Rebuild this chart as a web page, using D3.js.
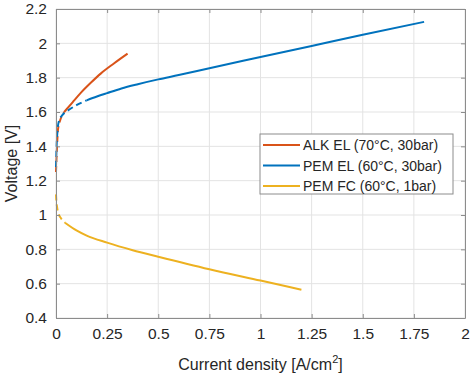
<!DOCTYPE html>
<html>
<head>
<meta charset="utf-8">
<script src="https://cdn.jsdelivr.net/npm/d3@7"></script>
<style>
  body { margin: 0; background: #fff; }
  text { font-family: "Liberation Sans", Arial, sans-serif; fill: #262626; }
</style>
</head>
<body>
<div id="main"></div>
<script>
/* Size */
const width = 474, height = 376;
const margin = {left: 56, right: 9, top: 9, bottom: 58};

/* Data */
const seriesNames = ["ALK EL (70°C, 30bar)", "PEM EL (60°C, 30bar)", "PEM FC (60°C, 1bar)"];
const seriesColors = ["#D95319", "#0072BD", "#EDB120"];

// current density [A/cm2], voltage [V]
const alkCurrent = [0, 0.005, 0.01, 0.02, 0.04, 0.08, 0.12, 0.17, 0.22, 0.28, 0.35];
const alkVoltage = [1.25, 1.40, 1.50, 1.55, 1.60, 1.655, 1.71, 1.77, 1.825, 1.88, 1.94];
const alkDashedUntil = 0.04;

const pemElCurrent = [0, 0.003, 0.008, 0.015, 0.03, 0.06, 0.1, 0.15, 0.2, 0.25, 0.32, 0.4, 0.5, 0.6, 0.75, 1.0, 1.25, 1.5, 1.8];
const pemElVoltage = [1.28, 1.40, 1.50, 1.55, 1.58, 1.61, 1.64, 1.668, 1.69, 1.71, 1.737, 1.762, 1.79, 1.815, 1.855, 1.92, 1.985, 2.05, 2.125];
const pemElDashedUntil = 0.15;

const pemFcCurrent = [0, 0.002, 0.006, 0.012, 0.025, 0.044, 0.1, 0.15, 0.25, 0.375, 0.5, 0.75, 1.0, 1.2];
const pemFcVoltage = [1.12, 1.08, 1.04, 1.01, 0.98, 0.955, 0.91, 0.88, 0.839, 0.795, 0.757, 0.684, 0.618, 0.565];
const pemFcDashedUntil = 0.044;

const xTicks = [0, 0.25, 0.5, 0.75, 1, 1.25, 1.5, 1.75, 2];
const yTicks = [0.4, 0.6, 0.8, 1, 1.2, 1.4, 1.6, 1.8, 2, 2.2];

const series = [
  {x: alkCurrent, y: alkVoltage, cut: alkDashedUntil},
  {x: pemElCurrent, y: pemElVoltage, cut: pemElDashedUntil},
  {x: pemFcCurrent, y: pemFcVoltage, cut: pemFcDashedUntil}
];

/* Scales */
const x = d3.scaleLinear().domain([0, 2]).range([margin.left, width - margin.right]);
const y = d3.scaleLinear().domain([0.4, 2.2]).range([height - margin.bottom, margin.top]);

const svg = d3.select("#main").append("svg").attr("width", width).attr("height", height);

/* Grid */
svg.append("g").selectAll("line").data(xTicks).enter().append("line")
  .attr("x1", d => x(d)).attr("x2", d => x(d))
  .attr("y1", y(0.4)).attr("y2", y(2.2))
  .attr("stroke", "#e3e3e3");
svg.append("g").selectAll("line").data(yTicks).enter().append("line")
  .attr("y1", d => y(d)).attr("y2", d => y(d))
  .attr("x1", x(0)).attr("x2", x(2))
  .attr("stroke", "#e3e3e3");

/* Lines */
const line = d3.line().x(d => x(d[0])).y(d => y(d[1])).curve(d3.curveMonotoneX);
series.forEach((s, i) => {
  const pts = s.x.map((v, j) => [v, s.y[j]]);
  const low = pts.filter(p => p[0] <= s.cut);
  const high = pts.filter(p => p[0] >= s.cut);
  svg.append("path").attr("d", line(low))
    .attr("fill", "none").attr("stroke", seriesColors[i]).attr("stroke-width", 2)
    .attr("stroke-dasharray", "6,4");
  svg.append("path").attr("d", line(high))
    .attr("fill", "none").attr("stroke", seriesColors[i]).attr("stroke-width", 2);
});

/* Axes (box with inward ticks) */
const axisColor = "#8c8c8c";
const tickLen = 4;
const axB = svg.append("g").attr("transform", `translate(0,${y(0.4)})`)
  .call(d3.axisBottom(x).tickValues(xTicks).tickSizeInner(-tickLen).tickSizeOuter(0).tickPadding(10).tickFormat(d3.format("")));
const axT = svg.append("g").attr("transform", `translate(0,${y(2.2)})`)
  .call(d3.axisTop(x).tickValues(xTicks).tickSizeInner(-tickLen).tickSizeOuter(0).tickFormat(""));
const axL = svg.append("g").attr("transform", `translate(${x(0)},0)`)
  .call(d3.axisLeft(y).tickValues(yTicks).tickSizeInner(-tickLen).tickSizeOuter(0).tickPadding(9).tickFormat(d3.format("")));
const axR = svg.append("g").attr("transform", `translate(${x(2)},0)`)
  .call(d3.axisRight(y).tickValues(yTicks).tickSizeInner(-tickLen).tickSizeOuter(0).tickFormat(""));
[axB, axT, axL, axR].forEach(a => {
  a.selectAll(".domain").attr("stroke", axisColor);
  a.selectAll(".tick line").attr("stroke", axisColor);
  a.selectAll("text").attr("font-size", 15.5).attr("fill", "#262626")
    .attr("font-family", "'Liberation Sans', Arial, sans-serif");
});

/* Axis titles */
const xt = svg.append("text").attr("x", (x(0) + x(2)) / 2).attr("y", 370)
  .attr("text-anchor", "middle").attr("font-size", 16);
xt.append("tspan").text("Current density [A/cm");
xt.append("tspan").text("2").attr("font-size", 11).attr("dy", -7);
xt.append("tspan").text("]").attr("dy", 7);

svg.append("text").attr("transform", `translate(17,${(y(0.4) + y(2.2)) / 2}) rotate(-90)`)
  .attr("text-anchor", "middle").attr("font-size", 16).text("Voltage [V]");

/* Legend */
const lg = svg.append("g").attr("transform", "translate(260,134)");
lg.append("rect").attr("width", 193).attr("height", 60)
  .attr("fill", "#fff").attr("stroke", "#8c8c8c");
seriesNames.forEach((n, i) => {
  const yy = 11 + i * 20.5;
  lg.append("line").attr("x1", 3).attr("x2", 40).attr("y1", yy).attr("y2", yy)
    .attr("stroke", seriesColors[i]).attr("stroke-width", 2);
  lg.append("text").attr("x", 43).attr("y", yy + 5).attr("font-size", 14).text(n);
});
</script>
</body>
</html>
